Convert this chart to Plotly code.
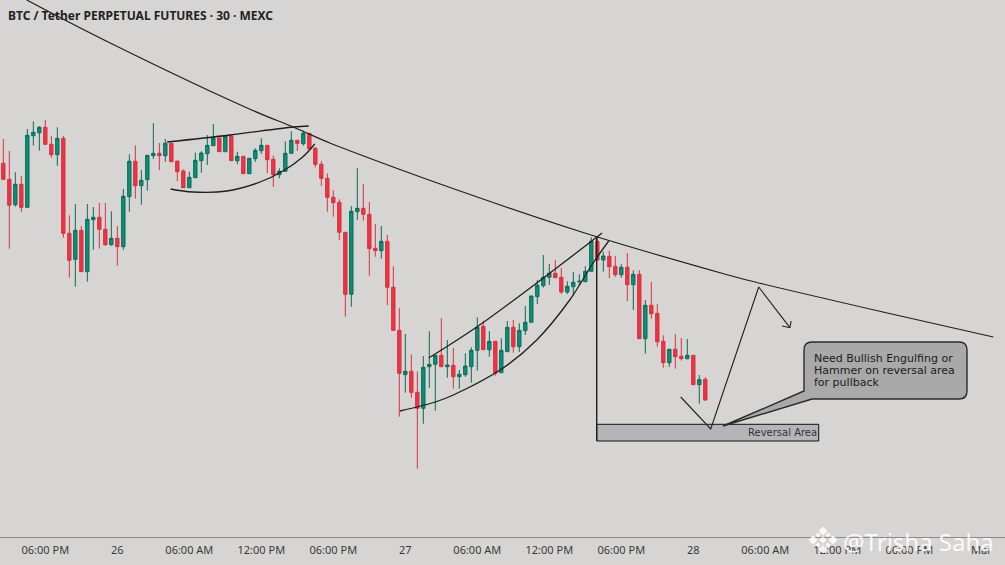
import pandas as pd
import plotly.graph_objects as go

# candles, 30 min bars. no price scale on the picture so values are relative levels
start_time = "2025-02-25 14:30"
opens = [373.7, 357.7, 332.3, 352.7, 329.7, 401.3, 404.3, 409.7, 392.7, 382.3,
         398.7, 303.7, 277.7, 306.7, 265.3, 317.3, 319.7, 307.7, 292.3, 298.7,
         290.3, 340.3, 375.7, 351.3, 357.3, 381.3, 383.7, 381.3, 393.7, 376,
         366, 349.3, 359.3, 376.3, 383.3, 391.3, 399, 385.3, 401, 376.3,
         380.7, 363.3, 378.3, 386.3, 391.7, 377.7, 362.3, 365.7, 383.7, 396.7,
         393.3, 403.7, 388.7, 372.7, 358.7, 339.7, 334.7, 304.7, 242.7, 325.3,
         328.7, 322.7, 288.7, 286.3, 295.7, 249.7, 206.7, 162.3, 165.7, 144.7,
         128.7, 170.3, 172.7, 181.7, 170.3, 171.7, 160.3, 162.3, 170.3, 186.7,
         210.7, 187.3, 195.7, 164.3, 185.3, 209.7, 190.3, 206.3, 214.7, 240.3,
         251.3, 259.7, 263.7, 259.7, 245, 250.3, 255.3, 255.3, 265.7, 295.7,
         277, 280.7, 270.7, 262.3, 269.7, 252.3, 262.7, 198.3, 231.7, 223.7,
         195.7, 174.3, 187.7, 180.7, 178.3, 181.7, 152.3, 157.7]
closes = [357.7, 331.7, 352.7, 329.7, 401.7, 404.7, 409.7, 392.7, 382.3, 398.7,
          303.7, 276.7, 306.7, 265.3, 317.7, 319.7, 307.7, 292.3, 298.7, 290.3,
          340.7, 375.7, 351.3, 356.7, 381.7, 383.7, 381.3, 393.7, 375.3, 365.3,
          349.3, 359.7, 376.7, 384, 391.7, 399, 385.3, 401, 376.3, 380.7,
          363.3, 378.7, 386.7, 391.7, 377.3, 362.3, 365.7, 383.7, 396.7, 393.7,
          403.7, 388, 372.7, 358.7, 339.7, 334.3, 304.7, 242.7, 325.7, 328.7,
          322.7, 288.3, 286.3, 295.7, 249.7, 206.7, 163.7, 165.7, 144.7, 128.7,
          169.7, 172.7, 181.7, 170.3, 172, 160.3, 162.7, 171, 186.7, 209.7,
          187.3, 195.7, 163.7, 186.7, 209.7, 190.3, 206.7, 214.7, 241, 251.7,
          259.7, 263.7, 259.3, 245, 250.7, 254.7, 255.7, 265.7, 295.7, 277,
          281, 270.3, 262.3, 269.7, 252.3, 262.7, 198.3, 231.7, 223.3, 195.3,
          174.3, 187.7, 180.3, 178.3, 181.7, 152.3, 157.3, 137]
highs = [398, 386, 364.7, 361, 408, 415.7, 411, 417, 401, 409.7,
         401, 321.7, 333, 311, 333, 330, 334, 334, 325.7, 311,
         348, 382.7, 391.7, 367, 381.7, 414, 394, 398, 393.7, 376,
         367.7, 365.3, 384.3, 385.7, 402, 413, 399, 401, 402.7, 385.3,
         380.7, 378.7, 388.7, 398.7, 391.7, 381.3, 368.7, 395.7, 405.7, 396.7,
         406.3, 403.7, 389.7, 376, 363.7, 346.7, 337.7, 304.7, 331, 368.7,
         353, 335, 313, 311, 302, 270.7, 228.7, 203, 182.7, 165.7,
         181, 205.7, 181.7, 218.7, 197, 189, 167, 183.7, 189.7, 219.7,
         216.3, 206, 195.7, 198.7, 216, 217, 213.7, 231, 241, 257,
         282, 273, 277, 269, 255.7, 265, 262.7, 270.7, 299.7, 300.3,
         285.3, 286.3, 281, 272.7, 284, 266.7, 266.7, 237, 255, 233,
         201.7, 187.7, 203, 199, 198, 181.7, 162, 159.7]
lows = [357, 288.3, 330.3, 325.3, 329.7, 391.3, 386.3, 392.7, 379.3, 371.3,
        299.3, 259.3, 250.3, 265.3, 255.3, 287.3, 288.3, 291.3, 291.3, 271.3,
        287.3, 325.3, 338.3, 332.3, 346.3, 378, 367, 375.3, 375.3, 356,
        349.3, 349.3, 359.3, 364.3, 372, 391.3, 385.3, 385.3, 376.3, 372.7,
        363.3, 363.3, 375.3, 383.3, 363.7, 350, 358.7, 365.7, 383.7, 386,
        391.3, 388, 369.7, 351.3, 325.3, 320.3, 297, 220.3, 230.3, 317.3,
        316.3, 261.3, 280.3, 278.3, 232, 206.7, 120.3, 144.3, 139.3, 68.3,
        113.3, 149.3, 126.3, 170.3, 159.3, 148.3, 148.3, 160.3, 154.3, 166.3,
        187.3, 180.3, 161.3, 164.3, 185.3, 184.3, 185, 202, 214.7, 233,
        249.3, 252, 259.3, 243, 243, 241.3, 252, 255.3, 265.7, 277,
        265.3, 259, 260.3, 259.3, 236, 227, 198.3, 183.3, 218.3, 190.3,
        169.3, 170.3, 168.3, 176.3, 177.7, 152.3, 133.3, 136.3]

# axis labels
tick_bars = [7, 19, 31, 43, 55, 67, 79, 91, 103, 115, 127, 139, 151, 163]
tick_labels = ["06:00 PM", "26", "06:00 AM", "12:00 PM", "06:00 PM", "27", "06:00 AM",
               "12:00 PM", "06:00 PM", "28", "06:00 AM", "12:00 PM", "06:00 PM", "Mar"]

# drawings, x in bars from the first candle, y in the same levels as the candles
trend_bars = [3.9, 16.8, 41.4, 48.3, 54.4, 57.4, 72.8, 96.9, 120.2, 123.9, 146.6, 165]
trend_levels = [537, 497, 427, 410, 394, 387, 353, 304, 263, 257, 225, 200]
flat_bars = [27.3, 37.8, 48.3, 50.9]
flat_levels = [395, 402, 410, 411]
arc1_bars = [27.9, 31.6, 37.3, 42.8, 46.6, 49.9, 51.9]
arc1_levels = [348, 345, 346, 355, 366, 380, 393]
upper2_bars = [70.9, 78.9, 88.9, 99.8]
upper2_levels = [179, 210, 254, 304]
arc2_bars = [66.1, 72, 75, 83.3, 88.9, 94.4, 98.3, 100.9]
arc2_levels = [126, 135, 142, 169, 197, 237, 274, 296]
path_bars = [112.9, 117.9, 125.9, 131.1]
path_levels = [140, 108, 250, 209.3]
head_bars = [129.8, 131.1, 131.3]
head_levels = [211, 209.3, 216]
zone_bars = [98.9, 135.9]
zone_levels = [96, 112.7]
drop_bars = [98.9, 98.9]
drop_levels = [301, 96]

note_lines = ["Need Bullish Engulfing or", "Hammer on reversal area", "for pullback"]

PLOT_W = 1005
PLOT_H = 537
BG = "#d6d5d3"
INK = "#1f1f1f"


def bar_time(bar):  # fractional bar number to a timestamp
    return pd.Timestamp(start_time) + pd.Timedelta(minutes=30 * bar)


def bar_times(bars):
    return [bar_time(b) for b in bars]


def px_x(x):  # pixel to paper fraction
    return x / PLOT_W


def px_y(y):
    return 1 - y / PLOT_H


def path_from(points):  # points are ("M"/"L"/"Q", x, y, ...) in pixels
    out = []
    for p in points:
        vals = []
        for i in range(1, len(p), 2):
            vals.append(f"{px_x(p[i]):.5f},{px_y(p[i + 1]):.5f}")
        out.append(p[0] + " ".join(vals))
    return " ".join(out) + " Z"


times = pd.date_range(start_time, periods=len(opens), freq="30min")

fig = go.Figure()
fig.add_trace(go.Candlestick(
    x=times, open=opens, high=highs, low=lows, close=closes,
    increasing=dict(line=dict(color="#0b6b59", width=1), fillcolor="#0a9077"),
    decreasing=dict(line=dict(color="#d9303f", width=1), fillcolor="#ee3346"),
    whiskerwidth=0, showlegend=False, hoverinfo="skip"))

# trendlines and the arcs
for bars, levels, width, shape in [
    (trend_bars, trend_levels, 1.2, "spline"),
    (flat_bars, flat_levels, 1.4, "spline"),
    (arc1_bars, arc1_levels, 1.3, "spline"),
    (upper2_bars, upper2_levels, 1.3, "spline"),
    (arc2_bars, arc2_levels, 1.3, "spline"),
    (path_bars, path_levels, 1.1, "linear"),
    (head_bars, head_levels, 1.1, "linear"),
    (drop_bars, drop_levels, 1.4, "linear"),
]:
    fig.add_trace(go.Scatter(x=bar_times(bars), y=levels, mode="lines",
                             line=dict(color=INK, width=width, shape=shape),
                             showlegend=False, hoverinfo="skip"))

# reversal zone, under the projection line
fig.add_shape(type="rect", layer="below", x0=bar_time(zone_bars[0]), x1=bar_time(zone_bars[1]),
              y0=zone_levels[0], y1=zone_levels[1],
              fillcolor="#b5b5b9", line=dict(color="#111111", width=1))

# speech bubble with its tail
bubble = path_from([
    ("M", 812, 342), ("L", 959, 342), ("Q", 967, 342, 967, 350), ("L", 967, 391),
    ("Q", 967, 399, 959, 399), ("L", 812, 399), ("L", 723, 426), ("L", 804, 391),
    ("L", 804, 350), ("Q", 804, 342, 812, 342),
])
fig.add_shape(type="path", xref="paper", yref="paper", path=bubble,
              fillcolor="#a9a9a9", line=dict(color="#2b2b2b", width=1.4))

# binance style logo of the watermark
logo_x, logo_y = 823, 540
for dx, dy, r in [(0, 0, 3.6), (0, -9, 4.5), (0, 9, 4.5), (-10, 0, 4.5), (10, 0, 4.5), (-5, -5, 2.5),
                  (5, -5, 2.5), (-5, 5, 2.5), (5, 5, 2.5)]:
    cx, cy = logo_x + dx, logo_y + dy
    fig.add_shape(type="path", xref="paper", yref="paper", layer="above",
                  path=path_from([("M", cx, cy - r), ("L", cx + r, cy), ("L", cx, cy + r), ("L", cx - r, cy)]),
                  fillcolor="rgba(255,255,255,0.85)", line=dict(width=0))

fig.add_annotation(xref="paper", yref="paper", x=px_x(819), y=px_y(432), xanchor="right", yanchor="middle",
                   text="Reversal Area", showarrow=False,
                   font=dict(family="DejaVu Sans", size=10, color="#333333"))
for i, line in enumerate(note_lines):
    fig.add_annotation(xref="paper", yref="paper", x=px_x(812), y=px_y(358 + 12 * i), xanchor="left",
                       yanchor="middle", text=line, showarrow=False,
                       font=dict(family="DejaVu Sans", size=11, color="#1c1c1c"))
fig.add_annotation(xref="paper", yref="paper", x=px_x(841), y=px_y(541), xanchor="left", yanchor="middle",
                   text="@Trisha Saha", showarrow=False,
                   font=dict(family="Noto Sans", size=24, color="rgba(255,255,255,0.88)"))

fig.update_layout(
    width=1005, height=565, margin=dict(l=0, r=0, t=0, b=28),
    paper_bgcolor=BG, plot_bgcolor=BG, boxgap=0.2,
    title=dict(text="<b>BTC / Tether PERPETUAL FUTURES · 30 · MEXC</b>", x=8 / 1005, xanchor="left",
               y=1 - 16 / 565, yanchor="middle", font=dict(family="Noto Sans", size=12, color="#222222")),
    xaxis=dict(range=[bar_time(-0.555), bar_time(166.95)], rangeslider=dict(visible=False),
               tickmode="array", tickvals=bar_times(tick_bars), ticktext=tick_labels,
               ticks="", showgrid=False, zeroline=False, showline=True, linecolor="#8c8c8c", linewidth=1,
               ticklabelstandoff=3, tickfont=dict(family="Noto Sans", size=11, color="#3a3a3a")),
    yaxis=dict(range=[0, PLOT_H], visible=False, showgrid=False, zeroline=False),
)

# the page margin would shift everything by 8px
fig.write_html("out.html", config=dict(displayModeBar=False),
               post_script="document.body.style.margin='0'; document.body.style.background='" + BG + "';")
